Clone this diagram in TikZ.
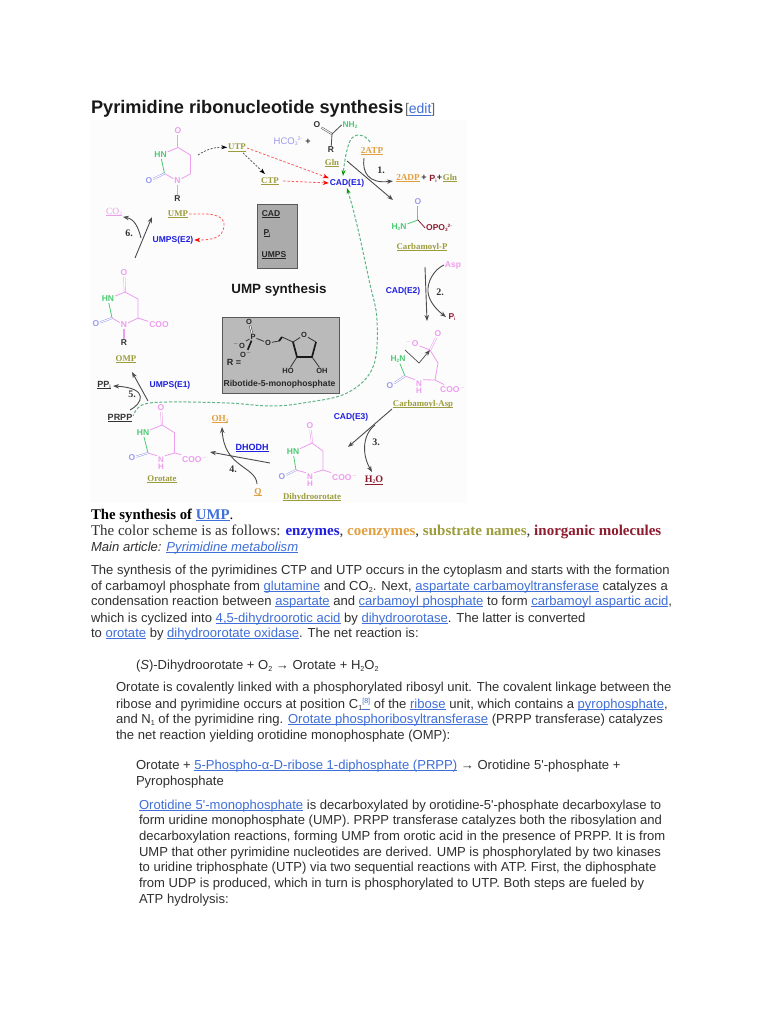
\documentclass[tikz,border=0pt]{standalone}
\usepackage{fontspec}
\setmainfont{Liberation Sans}
\newfontfamily\serifbody{Liberation Serif}
\usetikzlibrary{arrows.meta}
\definecolor{lnkblue}{HTML}{3F6FD8}
\definecolor{bodyink}{HTML}{303030}
\definecolor{pinkc}{HTML}{EE9CEE}
\definecolor{greenc}{HTML}{4CCB72}
\definecolor{lavc}{HTML}{9A9AEE}
\definecolor{olivec}{HTML}{9C9C3C}
\definecolor{enzc}{HTML}{1E1EE0}
\definecolor{coenc}{HTML}{E0A040}
\definecolor{inorgc}{HTML}{8E1C30}
\definecolor{dashgreen}{HTML}{5FB585}
\newcommand\lnk[1]{{\color{lnkblue}\setbox0\hbox{#1}\rlap{\rule[-1.8pt]{\wd0}{0.6pt}}\box0}}
\newcommand\ul[1]{\setbox0\hbox{#1}\rlap{\rule[-1.5pt]{\wd0}{0.5pt}}\box0}
\newcommand\sbs[1]{\raisebox{-.3ex}{\scalebox{.55}{#1}}}
\newcommand\sps[1]{\raisebox{.7ex}{\scalebox{.55}{#1}}}
\tikzset{
 every node/.style={inner sep=0pt,outer sep=1pt},
 body/.style={anchor=base west,font=\fontsize{13.05}{15}\selectfont,text=bodyink},
 atomb/.style={font=\fontsize{8.5}{9}\bfseries\selectfont},
 subst/.style={font=\fontsize{8.8}{10}\serifbody\bfseries\selectfont,text=olivec},
 coen/.style={font=\fontsize{9.2}{10}\serifbody\bfseries\selectfont,text=coenc},
 enz/.style={font=\fontsize{8.5}{9}\bfseries\selectfont,text=enzc},
 stepno/.style={font=\fontsize{10}{11}\serifbody\bfseries\selectfont,text=black!80},
 bondp/.style={draw=pinkc,line width=.8pt},
 bondg/.style={draw=greenc,line width=.8pt},
 bondk/.style={draw=black!70,line width=.8pt},
 bondl/.style={draw=lavc,line width=.8pt},
 bondm/.style={draw=inorgc,line width=.8pt},
 rx/.style={draw=black!70,line width=.9pt,-{Stealth[length=6pt,width=4.5pt]}},
 dashk/.style={draw=black!70,line width=.7pt,dash pattern=on 2pt off 1.5pt,-{Stealth[length=6pt,width=4pt,color=black]}},
 dashr/.style={draw=red!65,line width=.8pt,dash pattern=on 2.5pt off 1.8pt,-{Stealth[length=6pt,width=4.5pt,color=red]}},
 dashg/.style={draw=dashgreen,line width=1pt,dash pattern=on 3pt off 1.8pt},
 greybox/.style={draw=black!65,line width=.8pt,fill=black!33,anchor=north west},
}
\begin{document}
\begin{tikzpicture}[x=1pt,y=-1pt]
\useasboundingbox (0,0) rectangle (768,1024);
\fill[white] (0,0) rectangle (768,1024);
\fill[black!1] (90,120) rectangle (467,503);

% heading
\node[anchor=base west,font=\fontsize{18.2}{20}\bfseries\selectfont,text=black!90] (title) at (90,114) {Pyrimidine ribonucleotide synthesis};
\node[anchor=base west,font=\fontsize{14}{16}\selectfont,text=lnkblue] (edit) at (404,114) {{\color{black!60}[}\lnk{edit}{\color{black!60}]}};

% ---- grey boxes
\node[greybox,minimum width=40pt,minimum height=64pt] (box1) at (256,203) {};
\node[font=\fontsize{8.5}{9}\bfseries\selectfont,text=black!85] (bcad) at (271,214) {\ul{CAD}};
\node[font=\fontsize{8.5}{9}\bfseries\selectfont,text=black!85] (bpi) at (267,233) {\ul{P\sbs{i}}};
\node[font=\fontsize{8.5}{9}\bfseries\selectfont,text=black!85] (bumps) at (274,255) {\ul{UMPS}};
\node[font=\fontsize{13.4}{14}\bfseries\selectfont,text=black!90] (umpsyn) at (279,290) {UMP synthesis};
\node[greybox,fill=black!27,minimum width=117pt,minimum height=76pt] (box2) at (221,316) {};
\node[font=\fontsize{8.6}{9}\bfseries\selectfont,text=black!85] (ribname) at (279.5,384) {Ribotide-5-monophosphate};
\begin{scope}[font=\fontsize{7.5}{8}\bfseries\selectfont,text=black!85]
\node (rp) at (253,337) {P};
\node (ro1) at (249,322) {O};
\node (ro2) at (268,343) {O};
\node (ro3) at (239,345) {$^{-}$O};
\node (ro4) at (246,354) {O$^{-}$};
\node[font=\fontsize{9}{10}\bfseries\selectfont] (rr) at (234,362) {R =};
\node (rring) at (304,335) {O};
\node (rho) at (288,371) {HO};
\node (roh) at (322,371) {OH};
\end{scope}
\coordinate (ra) at (293,342); \coordinate (rb) at (297,357); \coordinate (rc) at (312,357); \coordinate (rd) at (316,342); \coordinate (re) at (282,337); \coordinate (rf) at (279,341);
\draw[bondk,black!80] (rp) -- (ro2); \draw[bondk,black!80,double,double distance=1pt,line width=.5pt] (rp) -- (ro1); \draw[bondk,black!80] (rp) -- (ro3);
\draw[black!90,line width=1.6pt] (rp) -- (ro4);
\draw[bondk,black!80] (ro2) -- (rf); \draw[black!90,line width=1.8pt] (rf) -- (re); \draw[bondk,black!80] (re) -- (ra);
\draw[bondk,black!90,line width=1.7pt] (ra) -- (rb) -- (rc) -- (rd);
\draw[bondk,black!80] (rd) -- (rring) -- (ra);
\draw[bondk,black!80] (rb) -- (rho); \draw[bondk,black!80] (rc) -- (roh);

% ---- top-left ring (UMP)
\node[atomb,text=pinkc] (uo4) at (178,130.5) {O};
\node[atomb,text=greenc] (un3) at (160.5,155) {HN};
\node[atomb,text=lavc] (uo2) at (149,181) {O};
\node[atomb,text=pinkc] (un1) at (177.5,181) {N};
\node[atomb,text=black!80] (ur) at (177.5,199) {R};
\coordinate (uc4) at (178,147.5); \coordinate (uc5) at (191,155.5); \coordinate (uc6) at (191,173.5); \coordinate (uc2) at (164.5,173.5);
\draw[bondp,double,double distance=1pt,line width=.5pt] (uo4) -- (uc4);
\draw[bondp] (uc4) -- (uc5); \draw[bondp,double,double distance=1pt,line width=.5pt] (uc5) -- (uc6);\draw[bondp] (uc6) -- (un1);
\draw[bondp] (un1) -- (uc2); \draw[bondg] (uc2) -- (un3); \draw[bondp] (un3) -- (uc4);
\draw[bondl,double,double distance=1pt,line width=.5pt] (uc2) -- (uo2);
\draw[pinkc,line width=1.8pt] (un1) -- (ur);

% ---- nucleotides
\node[subst] (utp) at (237,147.5) {\ul{UTP}};
\node[subst] (ctp) at (270,181) {\ul{CTP}};
\node[subst] (ump) at (178,214) {\ul{UMP}};
\node[enz] (umpse2) at (173,240) {UMPS(E2)};
\node[font=\fontsize{9.5}{10}\serifbody\selectfont,text=pinkc] (co2) at (114,212) {\ul{CO\sbs{2}}};
\node[stepno] (s6) at (129,233) {6.};
\coordinate (ucurve) at (198,155);
\draw[dashk] (ucurve) .. controls (208,148) and (218,147) .. (utp.west);
\coordinate (utpd) at (243,153); \coordinate (ctpu) at (265,174);
\draw[dashk] (utpd) -- (ctpu);
\coordinate (l6a) at (135,258); \coordinate (l6b) at (152,217); \coordinate (c6) at (141,238);
\draw[rx] (l6a) -- (l6b);
\draw[rx] (c6) .. controls (138,226) and (134,219) .. (co2.south east);
\draw[dashr] (ump.east) .. controls (205,214) and (225,212) .. (224,226) .. controls (223,238) and (212,240) .. (umpse2.east);

% ---- HCO3, glutamine
\node[font=\fontsize{9.5}{10}\selectfont,text=lavc] (hco) at (288,141.5) {HCO\sbs{3}\sps{2-}};
\node[font=\fontsize{9}{10}\bfseries\selectfont,text=black!80] (plus1) at (308,142) {+};
\node[atomb,text=black!80] (go) at (317,125) {O};
\node[atomb,text=greenc] (gn) at (350,125) {NH\sbs{2}};
\node[atomb,text=black!80] (gr) at (331,150) {R};
\coordinate (gc) at (332,134);
\draw[bondk,double,double distance=1pt,line width=.5pt] (go) -- (gc);
\draw[bondk] (gc) -- (gn.west); \draw[bondk] (gc) -- (gr);
\node[subst] (gln) at (332,163) {\ul{Gln}};
\node[enz,font=\fontsize{8.5}{9}\bfseries\selectfont] (cade1) at (347,183) {CAD(E1)};
\coordinate (utpr) at (247,148); \coordinate (ctpr) at (283,181);
\draw[dashr] (utpr) -- (cade1.north west);
\draw[dashr] (ctpr) -- (cade1.west);
% green dashed
\coordinate (gs) at (370,142);
\draw[dashg,-{Stealth[length=6pt,width=4pt,color=green!60!black]}] (gs) .. controls (365,134) and (354,132) .. (350,141) .. controls (346,150) and (344,165) .. (343,176);
\coordinate (g1) at (357,225); \coordinate (g2) at (369,280); \coordinate (g3) at (377,320); \coordinate (g4) at (373,367); \coordinate (g5) at (347,393); \coordinate (g6) at (303,403); \coordinate (g7) at (270,406); \coordinate (g8) at (228,403); \coordinate (g9) at (168,402); \coordinate (g10) at (142,405); \coordinate (g11) at (133,416);
\draw[dashg,{Stealth[length=6pt,width=4pt,color=green!60!black]}-] plot[smooth,tension=.6] coordinates {(cade1.south) (g1) (g2) (g3) (g4) (g5) (g6) (g7) (g8) (g9) (g10) (g11)};

% ---- step 1
\node[coen] (atp) at (372,151) {\ul{2ATP}};
\node[stepno] (s1) at (381,170) {1.};
\node[coen] (adp) at (408,178) {\ul{2ADP}};
\node[font=\fontsize{9}{10}\bfseries\selectfont,text=black!80] (pl2) at (424,178) {+};
\node[font=\fontsize{9}{10}\bfseries\selectfont,text=inorgc] (pi1) at (433,179) {P\sbs{i}};
\node[font=\fontsize{9}{10}\bfseries\selectfont,text=black!80] (pl3) at (439.5,178) {+};
\node[subst] (gln2) at (450,178) {\ul{Gln}};
\coordinate (l1a) at (347,161); \coordinate (l1b) at (393,200);
\draw[rx] (l1a) -- (l1b);
\coordinate (c1a) at (364,158);
\draw[rx] (c1a) .. controls (362,172) and (368,184) .. (393,181);
% carbamoyl-P
\node[atomb,text=lavc] (cpo) at (418,202) {O};
\coordinate (cpc) at (418,220);
\node[atomb,text=greenc] (cpn) at (399,227) {H\sbs{2}N};
\node[atomb,text=inorgc] (cpp) at (439,228) {OPO\sbs{3}\sps{2-}};
\node[subst] (cpl) at (422,247) {\ul{Carbamoyl-P}};
\draw[bondl,double,double distance=1pt,line width=.5pt] (cpo) -- (cpc);
\draw[bondg] (cpc) -- (cpn); \draw[bondm] (cpc) -- (cpp.west);

% ---- step 2
\node[atomb,text=pinkc] (asp) at (453,265) {Asp};
\node[enz] (cade2) at (403,291) {CAD(E2)};
\node[stepno] (s2) at (440,292) {2.};
\node[atomb,text=inorgc] (pi2) at (452,317) {P\sbs{i}};
\coordinate (l2a) at (425,267); \coordinate (l2b) at (427,321);
\draw[rx] (l2a) -- (l2b);
\draw[rx] (asp.west) .. controls (433,270) and (427,283) .. (428,292) .. controls (429,302) and (437,310) .. (446,317);

% ---- carbamoyl-Asp
\node[atomb,text=pinkc] (ao1) at (438,334) {O};
\node[atomb,text=pinkc] (ao2) at (412,343) {$^{-}$O};
\node[atomb,text=greenc] (an2) at (398,359) {H\sbs{2}N};
\node[atomb,text=pinkc,align=center,font=\fontsize{8}{8}\bfseries\selectfont] (an1) at (419,387) {N\\[-1pt]H};
\node[atomb,text=lavc] (ao3) at (390,386) {O};
\node[atomb,text=pinkc] (acoo) at (453,389) {COO$^{-}$};
\node[subst] (asl) at (423,404) {\ul{Carbamoyl-Asp}};
\coordinate (ac4) at (430,350); \coordinate (ac5) at (438,363); \coordinate (ac6) at (435,380); \coordinate (ac2) at (405,376);
\draw[bondp,double,double distance=1pt,line width=.5pt] (ao1) -- (ac4);
\draw[bondp] (ao2) -- (ac4) -- (ac5) -- (ac6) -- (an1.north east);
\draw[bondp] (ac6) -- (acoo);
\draw[bondp] (an1.north west) -- (ac2);
\draw[bondg] (ac2) -- (an2);
\draw[bondl,double,double distance=1pt,line width=.5pt] (ac2) -- (ao3);
\coordinate (ca1) at (405,350); \coordinate (ca2) at (419,363);
\draw[rx,line width=.7pt] (ca1) -- (ca2) -- (ac4);

% ---- step 3
\node[enz] (cade3) at (351,417) {CAD(E3)};
\node[stepno] (s3) at (376,442) {3.};
\node[font=\fontsize{10}{11}\serifbody\bfseries\selectfont,text=inorgc] (h2o) at (374,480) {\ul{H\sbs{2}O}};
\coordinate (l3a) at (392,409); \coordinate (l3b) at (348,447);
\draw[rx] (l3a) -- (l3b);
\coordinate (c3a) at (375,425);
\draw[rx] (c3a) .. controls (362,435) and (362,455) .. (372,472);

% ---- dihydroorotate
\node[atomb,text=pinkc] (do4) at (310,426) {O};
\node[atomb,text=greenc] (dn3) at (293,452) {HN};
\node[atomb,text=lavc] (do2) at (282,477) {O};
\node[atomb,text=pinkc,align=center,font=\fontsize{8}{8}\bfseries\selectfont] (dn1) at (310,480) {N\\[-1pt]H};
\node[atomb,text=pinkc] (dcoo) at (345,477) {COO$^{-}$};
\node[subst] (dl) at (312,497) {\ul{Dihydroorotate}};
\coordinate (dc4) at (312,443); \coordinate (dc5) at (323,451); \coordinate (dc6) at (323,470); \coordinate (dc2) at (296,470);
\draw[bondp,double,double distance=1pt,line width=.5pt] (do4) -- (dc4);
\draw[bondp] (dn3) -- (dc4) -- (dc5) -- (dc6) -- (dn1.north east); \draw[bondp] (dc6) -- (dcoo);
\draw[bondp] (dn1.north west) -- (dc2);
\draw[bondg] (dc2) -- (dn3);
\draw[bondl,double,double distance=1pt,line width=.5pt] (dc2) -- (do2);

% ---- step 4
\node[coen] (oh2) at (220,419) {\ul{OH\sbs{2}}};
\node[font=\fontsize{9}{10}\bfseries\selectfont,text=enzc] (dhodh) at (252,448) {\ul{DHODH}};
\node[stepno] (s4) at (233,469) {4.};
\node[coen] (q) at (258,492) {\ul{Q}};
\coordinate (l4a) at (270,463); \coordinate (l4b) at (210,452);
\draw[rx] (l4a) -- (l4b);
\coordinate (c4a) at (257,484);
\draw[rx] (c4a) .. controls (256,466) and (224,468) .. (222,427);

% ---- orotate
\node[atomb,text=pinkc] (oo4) at (161,408) {O};
\node[atomb,text=greenc] (on3) at (143,433) {HN};
\node[atomb,text=lavc] (oo2) at (132,458) {O};
\node[atomb,text=pinkc,align=center,font=\fontsize{8}{8}\bfseries\selectfont] (on1) at (161,463) {N\\[-1pt]H};
\node[atomb,text=pinkc] (ocoo) at (195,459) {COO$^{-}$};
\node[subst] (ol) at (162,479) {\ul{Orotate}};
\coordinate (oc4) at (162,425); \coordinate (oc5) at (175,433); \coordinate (oc6) at (175,453); \coordinate (oc2) at (148,453);
\draw[bondp,double,double distance=1pt,line width=.5pt] (oo4) -- (oc4);
\draw[bondp] (on3) -- (oc4) -- (oc5);
\draw[bondp,double,double distance=1pt,line width=.5pt] (oc5) -- (oc6);
\draw[bondp] (oc6) -- (on1.north east); \draw[bondp] (oc6) -- (ocoo);
\draw[bondp] (on1.north west) -- (oc2);
\draw[bondg] (oc2) -- (on3);
\draw[bondl,double,double distance=1pt,line width=.5pt] (oc2) -- (oo2);

% ---- step 5
\node[enz] (umpse1) at (170,385) {UMPS(E1)};
\node[stepno] (s5) at (132,394) {5.};
\node[font=\fontsize{9}{10}\bfseries\selectfont,text=black!80] (ppi) at (104,385) {\ul{PP\sbs{i}}};
\node[font=\fontsize{9}{10}\bfseries\selectfont,text=black!80] (prpp) at (120,418) {\ul{PRPP}};
\coordinate (l5a) at (148,401); \coordinate (l5b) at (132,372);
\draw[rx] (l5a) -- (l5b);
\coordinate (c5a) at (130,410);
\draw[rx] (c5a) .. controls (142,404) and (150,388) .. (113,386);

% ---- OMP
\node[atomb,text=pinkc] (mo4) at (124,273) {O};
\node[atomb,text=greenc] (mn3) at (108,299) {HN};
\node[atomb,text=lavc] (mo2) at (96,324) {O};
\node[atomb,text=pinkc] (mn1) at (124,325) {N};
\node[atomb,text=pinkc] (mcoo) at (159,325) {COO};
\node[atomb,text=black!80] (mr) at (124,343) {R};
\node[subst] (ml) at (126,359) {\ul{OMP}};
\coordinate (mc4) at (125,292); \coordinate (mc5) at (138,299); \coordinate (mc6) at (138,318); \coordinate (mc2) at (112,318);
\draw[bondp,double,double distance=1pt,line width=.5pt] (mo4) -- (mc4);
\draw[bondp] (mn3) -- (mc4) -- (mc5) -- (mc6) -- (mn1); \draw[bondp] (mc6) -- (mcoo);
\draw[bondp] (mn1) -- (mc2); \draw[bondg] (mc2) -- (mn3);
\draw[bondl,double,double distance=1pt,line width=.5pt] (mc2) -- (mo2);
\draw[pinkc,line width=1.8pt] (mn1) -- (mr);

% ---- caption
\node[anchor=base west,font=\fontsize{14.8}{16}\serifbody\bfseries\selectfont,text=black] (cap1) at (90,519) {The synthesis of \lnk{UMP}{\mdseries .}};
\node[anchor=base west,font=\fontsize{15}{16}\serifbody\selectfont,text=bodyink] (cap2) at (90,535) {The color scheme is as follows: {\bfseries\color{enzc}enzymes}, {\bfseries\color{coenc}coenzymes}, {\bfseries\color{olivec}substrate names}, {\bfseries\color{inorgc}inorganic molecules}};
\node[anchor=base west,font=\fontsize{13.1}{15}\itshape\selectfont,text=bodyink] (cap3) at (90,551) {Main article: \lnk{Pyrimidine metabolism}};

% ---- body text
\node[body] (t1) at (90,574) {The synthesis of the pyrimidines CTP and UTP occurs in the cytoplasm and starts with the formation};
\node[body] (t2) at (90,590) {of carbamoyl phosphate from \lnk{glutamine} and CO\sbs{2}. Next, \lnk{aspartate carbamoyltransferase} catalyzes a};
\node[body] (t3) at (90,605) {condensation reaction between \lnk{aspartate} and \lnk{carbamoyl phosphate} to form \lnk{carbamoyl aspartic acid},};
\node[body] (t4) at (90,622) {which is cyclized into \lnk{4,5-dihydroorotic acid} by \lnk{dihydroorotase}. The latter is converted};
\node[body] (t5) at (90,637) {to \lnk{orotate} by \lnk{dihydroorotate oxidase}. The net reaction is:};
\node[body] (t6) at (135,669) {(\textit{S})-Dihydroorotate + O\sbs{2} → Orotate + H\sbs{2}O\sbs{2}};
\node[body] (t7) at (115,691) {Orotate is covalently linked with a phosphorylated ribosyl unit. The covalent linkage between the};
\node[body] (t8) at (115,708) {ribose and pyrimidine occurs at position C\sbs{1}\lnk{\sps{[8]}} of the \lnk{ribose} unit, which contains a \lnk{pyrophosphate},};
\node[body] (t9) at (115,723) {and N\sbs{1} of the pyrimidine ring. \lnk{Orotate phosphoribosyltransferase} (PRPP transferase) catalyzes};
\node[body] (t10) at (115,739) {the net reaction yielding orotidine monophosphate (OMP):};
\node[body] (t11) at (135,769) {Orotate + \lnk{5-Phospho-α-D-ribose 1-diphosphate (PRPP)} → Orotidine 5\textquotesingle-phosphate +};
\node[body] (t12) at (135,785) {Pyrophosphate};
\node[body] (t13) at (138,809) {\lnk{Orotidine 5\textquotesingle-monophosphate} is decarboxylated by orotidine-5\textquotesingle-phosphate decarboxylase to};
\node[body] (t14) at (138,824) {form uridine monophosphate (UMP). PRPP transferase catalyzes both the ribosylation and};
\node[body] (t15) at (138,840) {decarboxylation reactions, forming UMP from orotic acid in the presence of PRPP. It is from};
\node[body] (t16) at (138,856) {UMP that other pyrimidine nucleotides are derived. UMP is phosphorylated by two kinases};
\node[body] (t17) at (138,871) {to uridine triphosphate (UTP) via two sequential reactions with ATP. First, the diphosphate};
\node[body] (t18) at (138,887) {from UDP is produced, which in turn is phosphorylated to UTP. Both steps are fueled by};
\node[body] (t19) at (138,903) {ATP hydrolysis:};
\end{tikzpicture}
\end{document}
